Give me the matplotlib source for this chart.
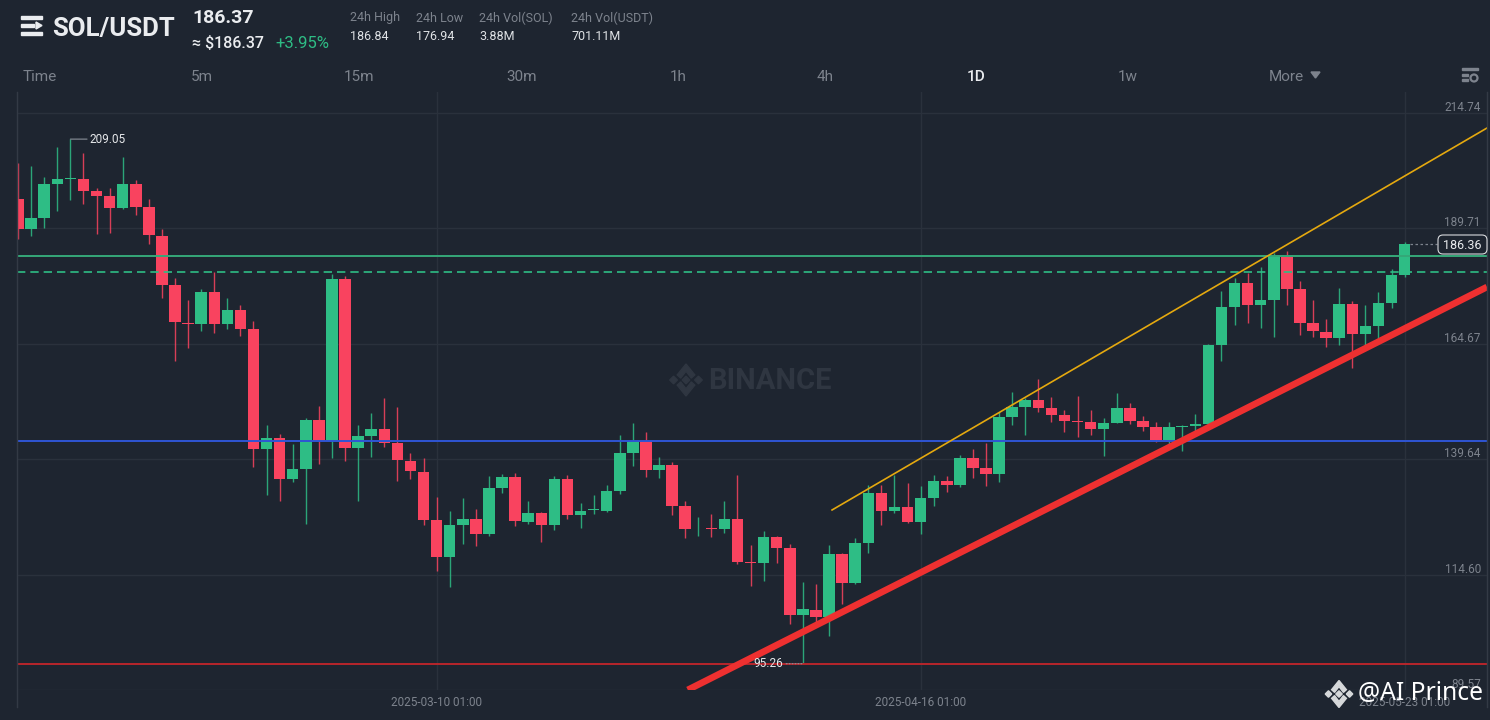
import matplotlib
matplotlib.use('Agg')
import matplotlib.pyplot as plt
from matplotlib.patches import Polygon, FancyBboxPatch, Rectangle, Circle

plt.rcParams['font.family'] = ['Roboto', 'DejaVu Sans']

# Daily candles
opens = [196.00, 189.49, 191.88, 199.25, 200.40, 200.34, 197.86, 196.65, 194.18, 199.32,
         194.33, 188.10, 177.41, 169.23, 168.88, 175.89, 168.88, 171.98, 167.80, 141.77,
         144.22, 135.26, 137.56, 148.12, 143.63, 178.64, 142.05, 144.72, 146.17, 143.20,
         139.29, 136.91, 126.43, 118.34, 125.35, 126.58, 123.33, 133.44, 135.76, 126.06,
         127.95, 125.35, 135.26, 127.58, 128.53, 128.45, 132.79, 140.96, 143.63, 137.34,
         138.36, 129.47, 124.63, 124.70, 124.54, 126.58, 117.32, 117.17, 122.74, 120.29,
         105.89, 106.91, 105.39, 118.99, 112.76, 121.38, 132.22, 128.32, 129.32, 126.06,
         131.27, 134.83, 134.02, 139.81, 137.78, 136.47, 148.71, 151.01, 152.46, 150.73,
         149.14, 147.84, 147.75, 146.24, 147.47, 150.73, 147.97, 146.61, 143.85, 146.67,
         146.89, 147.25, 164.39, 172.64, 177.78, 173.07, 174.09, 183.55, 176.54, 169.10,
         167.28, 165.91, 173.22, 166.84, 168.51, 173.50, 179.58]
highs = [203.81, 203.29, 200.77, 207.28, 209.05, 205.98, 198.38, 198.38, 205.17, 200.12,
         196.06, 189.56, 178.93, 174.15, 176.47, 180.16, 174.59, 173.00, 169.60, 146.97,
         145.09, 142.85, 148.62, 151.16, 179.79, 179.36, 146.97, 149.58, 152.83, 150.88,
         141.03, 139.81, 131.49, 128.32, 131.27, 128.75, 135.98, 136.41, 136.63, 130.55,
         128.10, 135.98, 136.13, 130.12, 131.79, 134.02, 144.87, 147.41, 145.45, 140.10,
         139.01, 130.49, 127.08, 127.73, 130.49, 136.19, 120.94, 124.05, 122.90, 121.16,
         112.92, 112.55, 121.01, 119.21, 122.59, 133.96, 133.96, 136.19, 134.39, 133.81,
         136.13, 135.98, 140.53, 141.90, 143.07, 149.92, 154.13, 152.83, 156.95, 153.11,
         150.29, 153.33, 150.29, 148.56, 153.91, 151.81, 148.99, 147.75, 147.69, 147.10,
         149.42, 164.54, 176.11, 178.86, 180.08, 181.38, 184.41, 184.78, 178.27, 174.15,
         169.97, 176.69, 173.87, 173.07, 175.89, 180.81, 186.73]
lows = [187.32, 188.04, 189.71, 193.46, 195.78, 195.04, 188.41, 188.75, 193.96, 192.53,
        186.24, 174.52, 160.86, 163.68, 167.49, 167.06, 167.93, 166.34, 137.99, 131.92,
        130.62, 134.74, 125.56, 138.51, 139.95, 139.16, 130.62, 140.16, 142.33, 134.96,
        135.26, 125.41, 115.43, 111.96, 121.23, 120.79, 123.03, 132.35, 125.13, 125.56,
        121.72, 124.20, 126.71, 124.76, 127.73, 128.17, 132.00, 138.21, 135.82, 135.54,
        127.58, 122.59, 122.96, 122.68, 123.68, 116.95, 112.18, 113.20, 117.10, 103.81,
        95.26, 104.02, 101.27, 108.21, 112.55, 119.34, 125.28, 127.88, 125.85, 123.46,
        129.47, 132.44, 133.52, 135.61, 133.81, 134.61, 147.10, 144.80, 149.79, 147.69,
        145.45, 144.50, 144.93, 140.25, 147.41, 147.25, 145.74, 143.42, 142.63, 141.40,
        145.37, 146.82, 160.99, 168.67, 169.23, 168.14, 166.06, 173.07, 166.56, 166.19,
        163.96, 164.39, 159.34, 164.39, 165.48, 172.48, 179.21]
closes = [189.49, 191.88, 199.25, 200.34, 200.55, 197.86, 196.71, 194.18, 199.32, 194.39,
          188.25, 177.47, 169.32, 168.95, 175.89, 168.88, 171.98, 167.86, 141.77, 144.22,
          135.26, 137.56, 148.12, 143.63, 178.64, 142.05, 144.65, 146.17, 143.20, 139.38,
          136.99, 126.50, 118.34, 125.28, 126.58, 123.33, 133.44, 135.76, 126.15, 127.95,
          125.35, 135.26, 127.58, 128.38, 128.75, 132.79, 140.90, 143.63, 137.34, 138.36,
          129.47, 124.54, 124.76, 124.54, 126.58, 117.39, 117.17, 122.74, 120.29, 105.89,
          107.06, 105.39, 118.99, 112.83, 121.38, 132.22, 128.32, 129.32, 126.06, 131.27,
          134.83, 134.02, 139.81, 137.78, 136.47, 148.71, 151.01, 152.46, 150.73, 149.14,
          147.91, 147.62, 146.24, 147.41, 150.73, 147.97, 146.67, 143.85, 146.61, 146.89,
          147.25, 164.39, 172.64, 177.78, 173.07, 174.09, 183.70, 176.54, 169.10, 167.36,
          165.91, 173.22, 166.84, 168.51, 173.44, 179.58, 186.36]

price_ticks = [214.74, 189.71, 164.67, 139.64, 114.60, 89.57]
date_pos = [32, 69, 106]
date_labels = ['2025-03-10 01:00', '2025-04-16 01:00', '2025-05-23 01:00']

resistance = 183.70
resistance_low = 180.16
middle = 143.67
support = 95.26
last_price = 186.36
top_price = 209.05

# drawn trend lines (candle number, price)
yellow_x = [62.23, 112.3]
yellow_y = [128.6, 211.46]
red_x = [51.2, 112.3]
red_y = [89.57, 176.97]

tabs = ['5m', '15m', '30m', '1h', '4h', '1D', '1w']
tab_pos = [202, 359, 522, 678, 825, 976, 1128]
stat_names = ['24h High', '24h Low', '24h Vol(SOL)', '24h Vol(USDT)']
stat_values = ['186.84', '176.94', '3.88M', '701.11M']
stat_pos = [350, 416, 479, 571]

BG = '#1e2530'
GREEN = '#2ebd85'
RED = '#f9435f'
GRID = '#2a313c'
MUTED = '#7d838d'

fig = plt.figure(figsize=(14.9, 7.2), dpi=100, facecolor=BG)

# price panel
ax = fig.add_axes([17 / 1490, 1 - 690 / 720, 1470 / 1490, 598 / 720], facecolor=BG)
ax.set_xlim(-0.08, 112.3)
ax.set_ylim(89.55, 219.27)
for s in ax.spines.values():
    s.set_visible(False)

ax.set_yticks(price_ticks)
ax.set_yticklabels([])
ax.set_xticks(date_pos)
ax.set_xticklabels(date_labels, color=MUTED, fontsize=8.5)
ax.tick_params(length=0, pad=4)
ax.grid(True, color=GRID, lw=1)
ax.set_axisbelow(True)

for i in range(len(opens)):
    col = GREEN if closes[i] >= opens[i] else RED
    ax.vlines(i, lows[i], highs[i], color=col, lw=1.0, alpha=0.85, zorder=2)
    ax.bar(i, abs(closes[i] - opens[i]), bottom=min(opens[i], closes[i]), width=0.88,
           color=col, lw=0, zorder=3)

ax.axhline(resistance, color='#35a878', lw=1.4, zorder=4)
ax.axhline(resistance_low, color=GREEN, lw=1.2, ls=(0, (5, 3)), zorder=4)
ax.axhline(middle, color='#2f55d4', lw=1.4, zorder=4)
ax.axhline(support, color='#b8262b', lw=1.4, zorder=4)
ax.plot(yellow_x, yellow_y, color='#e5a90f', lw=1.2, zorder=5)
ax.plot(red_x, red_y, color='#ee3030', lw=4.8, zorder=5, solid_capstyle='butt')

for p in price_ticks:
    ax.annotate(f'{p:.2f}', (1, p), xycoords=('axes fraction', 'data'), xytext=(-4.5, -0.8),
                textcoords='offset points', ha='right', va='bottom', color=MUTED, fontsize=8.5)

# high and low marks
ax.annotate(f'{top_price:.2f}', (4, top_price), xytext=(14, 0), textcoords='offset points',
            va='center', color='#e6e8ea', fontsize=8.5, zorder=6,
            arrowprops=dict(arrowstyle='-', color='#8a9099', lw=0.8, shrinkA=0, shrinkB=0))
ax.annotate(f'{support:.2f}', (60, support), xytext=(-35.5, 0), textcoords='offset points',
            va='center', color='#e6e8ea', fontsize=8.5, zorder=6,
            arrowprops=dict(arrowstyle='-', color='#8a9099', lw=0.8, ls=':', shrinkA=0, shrinkB=0))

# page furniture in pixel coordinates
ui = fig.add_axes([0, 0, 1, 1], facecolor='none')
ui.set_xlim(0, 1490)
ui.set_ylim(720, 0)
ui.axis('off')

ui.plot([17, 17], [92, 707], color='#333a45', lw=1)
ui.plot([1487, 1487], [92, 707], color='#333a45', lw=1)

# menu icon
ui.add_patch(Rectangle((21, 16), 21, 3, color='#eaecef'))
ui.add_patch(Rectangle((21, 32), 21, 3, color='#eaecef'))
ui.add_patch(Rectangle((21, 24), 13, 3, color='#eaecef'))
ui.add_patch(Polygon([[36, 22], [36, 29], [42, 25.5]], color='#eaecef'))

ui.text(52, 29, 'SOL/USDT', color='#eaecef', fontsize=18.5, fontweight='bold', va='center')
ui.text(192, 18, '186.37', color='#eaecef', fontsize=14, fontweight='bold', va='center')
ui.text(192, 44, '≈ $186.37', color='#eaecef', fontsize=11.5, fontweight='medium', va='center')
ui.text(275, 44, '+3.95%', color=GREEN, fontsize=12, va='center')
for name, value, x in zip(stat_names, stat_values, stat_pos):
    ui.text(x, 18, name, color=MUTED, fontsize=9, va='center')
    ui.text(x, 37, value, color='#dfe2e5', fontsize=9, va='center')

ui.text(23, 77, 'Time', color=MUTED, fontsize=11, va='center')
for name, x in zip(tabs, tab_pos):
    ui.text(x, 77, name, color='#eaecef' if name == '1D' else MUTED, fontsize=11,
            ha='center', va='center', fontweight='medium' if name == '1D' else 'normal')
ui.text(1269, 77, 'More', color=MUTED, fontsize=11, va='center')
ui.add_patch(Polygon([[1311, 72], [1320, 72], [1315.5, 78]], color=MUTED))

# settings icon
ui.add_patch(Rectangle((1462, 68), 16, 1.5, color=MUTED))
ui.add_patch(Rectangle((1462, 74), 6, 1.5, color=MUTED))
ui.add_patch(Rectangle((1462, 79), 6, 1.5, color=MUTED))
ui.add_patch(Circle((1474, 78), 3.5, fc=BG, ec=MUTED, lw=1.6))


def binance_mark(cx, cy, r, color):
    # four small diamonds round a centre one
    small = r * 0.24
    for dx, dy in [(0, 0), (-r * 0.78, 0), (r * 0.78, 0)]:
        ui.add_patch(Polygon([[cx + dx - small, cy + dy], [cx + dx, cy + dy - small],
                              [cx + dx + small, cy + dy], [cx + dx, cy + dy + small]], color=color))
    ui.add_patch(Polygon([[cx - r * 0.55, cy - r * 0.32], [cx, cy - r], [cx + r * 0.55, cy - r * 0.32],
                          [cx + r * 0.33, cy - r * 0.12], [cx, cy - r * 0.55], [cx - r * 0.33, cy - r * 0.12]],
                         color=color))
    ui.add_patch(Polygon([[cx - r * 0.55, cy + r * 0.32], [cx, cy + r], [cx + r * 0.55, cy + r * 0.32],
                          [cx + r * 0.33, cy + r * 0.12], [cx, cy + r * 0.55], [cx - r * 0.33, cy + r * 0.12]],
                         color=color))


# faint centre watermark
binance_mark(686, 380, 16, '#2f3641')
ui.text(708, 381, 'BINANCE', color='#2f3641', fontsize=21, fontweight='bold', va='center')

# last price tag
ui.plot([1410, 1437], [244, 244], color='#7d838d', lw=0.9, ls=(0, (2, 2)))
ui.add_patch(FancyBboxPatch((1441, 238), 43, 13, boxstyle='round,pad=3,rounding_size=5',
                            fc=BG, ec='#d8dadd', lw=0.8, zorder=6))
ui.text(1462.5, 245.5, f'{last_price:.2f}', color='#eaecef', fontsize=9, ha='center', va='center', zorder=7)

# corner credit
binance_mark(1339, 694, 13.5, '#d6d8da')
ui.text(1358, 694, '@AI Prince', color='#ffffff', fontsize=17.8, family='Noto Sans', va='center')

fig.savefig('out.png', dpi=100, facecolor=BG)
